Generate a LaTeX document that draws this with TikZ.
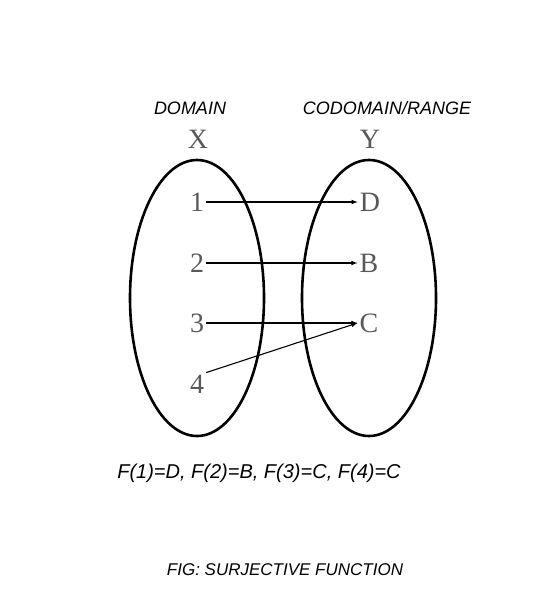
\documentclass[tikz,border=0pt]{standalone}
\usepackage{fontspec}
\newfontfamily\handfont{Liberation Sans}
\newfontfamily\elemfont{Liberation Serif}
\usetikzlibrary{arrows,shapes.geometric,positioning}
\tikzset{set/.style={
    % the two sets
    ellipse,draw=black,line width=2.6pt,
    minimum width=134pt,minimum height=276pt
  },
  elem/.style={
    text=black!65,inner sep=2pt,
    font=\elemfont\fontsize{28}{29}\selectfont
  },
  caption/.style={
    font=\handfont\itshape\fontsize{18}{20}\selectfont
  },
  map/.style={->,>=latex,line width=1.1pt}
}
\begin{document}
\begin{tikzpicture}[x=1pt,y=-1pt]
      \useasboundingbox (0,0) rectangle (538,596);

      \node (X) [set] at (197,298) {};
      \node (Y) [set] at (369,298) {};

      \node (xname) [elem] at (198,139) {X};
      \node (yname) [elem] at (370,139) {Y};
      \node (dom) [caption] at (190,108) {DOMAIN};
      \node (cod) [caption] at (387,108) {CODOMAIN/RANGE};

      \node (one)   [elem] at (197,202) {1};
      \node (two)   [elem] at (197,263) {2};
      \node (three) [elem] at (197,323) {3};
      \node (four)  [elem] at (197,384) {4};

      \node (d) [elem] at (370,202) {D};
      \node (b) [elem] at (369,263) {B};
      \node (c) [elem] at (369,323) {C};

      \path (one) edge[map] (d);
      \path (two) edge[map] (b);
      \path (three) edge[map] (c);
      \path (four.north east) edge[map] (c.west);

      \node (rule) [caption,font=\handfont\itshape\fontsize{20}{22}\selectfont]
        at (259,473) {F(1)=D, F(2)=B, F(3)=C, F(4)=C};
      \node (fig) [caption,font=\handfont\itshape\fontsize{17}{20}\selectfont]
        at (285,570) {FIG: SURJECTIVE FUNCTION};
    \end{tikzpicture}
\end{document}
